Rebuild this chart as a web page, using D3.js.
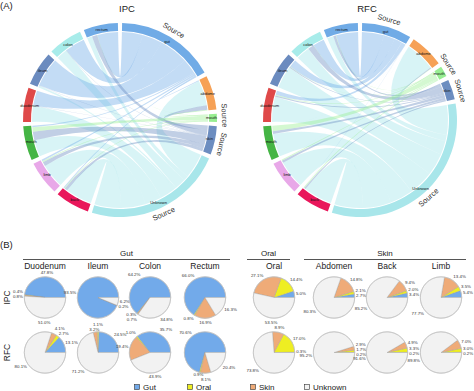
<!DOCTYPE html>
<html><head><meta charset="utf-8">
<script src="https://cdn.jsdelivr.net/npm/d3@7"></script>
<style>body{margin:0;background:#fff}svg{display:block;font-family:"Liberation Sans",Arial,sans-serif}</style>
</head><body><svg id="c" width="474" height="391"></svg>
<script>
// ---------------- data ----------------
const sinks = ["Duodenum","Ileum","Colon","Rectum","Oral","Abdomen","Back","Limb"];
const sources = ["Gut","Oral","Skin","Unknown"];
const ipcGut     = [47.8, 93.5, 64.2, 66.0,  5.0,  2.7,  3.4,  5.4];
const ipcOral    = [ 0.4,  0.0,  0.3,  0.8, 14.4,  2.1,  2.0,  3.5];
const ipcSkin    = [ 0.8,  0.2,  0.7, 16.9, 27.1, 14.8,  9.4, 13.4];
const ipcUnknown = [51.0,  6.2, 34.8, 16.3, 53.5, 80.3, 85.2, 77.7];
const rfcGut     = [13.1, 24.5, 35.7, 70.6,  0.3,  0.2,  0.2,  0.2];
const rfcOral    = [ 2.7,  1.1,  1.0,  0.9, 17.0,  1.7,  3.3,  3.0];
const rfcSkin    = [ 4.1,  3.2, 19.4,  8.1,  8.9,  2.9,  4.9,  7.0];
const rfcUnknown = [80.1, 71.2, 43.9, 20.4, 73.8, 95.2, 91.6, 89.8];
const groups = ["Gut","Oral","Skin"];
const rowLabels = ["IPC","RFC"];
// chord segment order (clockwise from top)
const segNames = ["gut","abdome","mouth","skin","Unknown","back","limb","mouth","duodenum","ileum","colon","rectum"];
const segRefs  = [["src",0],["snk",5],["src",1],["src",2],["src",3],["snk",6],["snk",7],["snk",4],["snk",0],["snk",1],["snk",2],["snk",3]];
const segColors = ["#70abe6","#f6a156","#98ee92","#6c8dc0","#a8e6ea","#e9175b","#e8a8e8","#45b545","#df4949","#6b8bbf","#a8ecea","#70abe6"];
const pieColors = ["#72aaea","#eeee22","#efab78","#f2f2f2"];

// ---------------- setup ----------------
const svg = d3.select("#c");
svg.append("rect").attr("width",474).attr("height",391).attr("fill","#fff");
const txt = "#222";

svg.append("text").attr("x",0).attr("y",9).attr("font-size",9.5).attr("fill",txt).text("(A)");
svg.append("text").attr("x",0).attr("y",248).attr("font-size",9.5).attr("fill",txt).text("(B)");

// ---------------- chord diagrams ----------------
function drawChord(cx, cy, title, mat){
  const g = svg.append("g").attr("transform",`translate(${cx},${cy})`);
  const n = segNames.length;
  const srcSeg = sources.map((_,i)=>segRefs.findIndex(r=>r[0]==="src"&&r[1]===i));
  const snkSeg = sinks.map((_,i)=>segRefs.findIndex(r=>r[0]==="snk"&&r[1]===i));
  const links = [];
  sources.forEach((s,si)=>sinks.forEach((k,ki)=>{
    const v = mat[si][ki];
    if(v>0) links.push({s:srcSeg[si], t:snkSeg[ki], v, si});
  }));
  const totals = segNames.map((_,i)=>d3.sum(links.filter(l=>l.s===i||l.t===i),l=>l.v));
  const gap = 2.5*Math.PI/180;
  const k = (2*Math.PI - n*gap)/d3.sum(totals);
  let a = gap/2;
  const segAng = totals.map(t=>{const s=a; a+=t*k; const e=a; a+=gap; return {s,e};});
  segNames.forEach((_,i)=>{
    const my = [];
    links.forEach((l,li)=>{
      if(l.s===i) my.push({li, other:l.t, side:"sa", v:l.v});
      else if(l.t===i) my.push({li, other:l.s, side:"ta", v:l.v});
    });
    my.sort((p,q)=>((i-p.other+n)%n)-((i-q.other+n)%n));
    let c = segAng[i].s;
    my.forEach(d=>{const st=c; c+=d.v*k; links[d.li][d.side]=[st,c];});
  });
  const Rin = 89, Rout = 97;
  const ribbon = d3.ribbon().radius(Rin-1);
  const drawOrder = [3,0,2,1];
  drawOrder.forEach(si=>{
    links.filter(l=>l.si===si).forEach(l=>{
      g.append("path")
        .attr("d", ribbon({source:{startAngle:l.sa[0],endAngle:l.sa[1]}, target:{startAngle:l.ta[0],endAngle:l.ta[1]}}))
        .attr("fill", segColors[l.s]).attr("fill-opacity", si===3?0.45:0.42)
        .attr("stroke","none");
    });
  });
  const arc = d3.arc().innerRadius(Rin).outerRadius(Rout);
  const srcLab = [];
  segAng.forEach((sa,i)=>{
    g.append("path").attr("d",arc({startAngle:sa.s,endAngle:sa.e})).attr("fill",segColors[i]);
    const m = (sa.s+sa.e)/2;
    g.append("text").attr("x",91.5*Math.sin(m)).attr("y",-91.5*Math.cos(m))
      .attr("text-anchor","middle").attr("dominant-baseline","middle")
      .attr("font-size",4).attr("fill","#111").text(segNames[i]);
    if(segRefs[i][0]==="src") srcLab.push({deg:m*180/Math.PI});
  });
  // spread source labels that are too close
  const minSep = 16;
  for(let it=0; it<20; it++){
    for(let j=1;j<srcLab.length;j++){
      const d = srcLab[j].deg - srcLab[j-1].deg;
      if(d<minSep){ const p=(minSep-d)/2; srcLab[j-1].deg-=p; srcLab[j].deg+=p; }
    }
  }
  srcLab.forEach(l=>{
    const deg=l.deg, m=deg*Math.PI/180;
    const rot = (deg>120 && deg<300) ? deg-180 : deg;
    const R = 104;
    g.append("text").attr("transform",`translate(${R*Math.sin(m)},${-R*Math.cos(m)}) rotate(${rot})`)
      .attr("text-anchor","middle").attr("dominant-baseline","middle")
      .attr("font-size",7.5).attr("fill","#333").text("Source");
  });
  svg.append("text").attr("x",cx+7).attr("y",12).attr("text-anchor","middle")
    .attr("font-size",9.5).attr("fill",txt).text(title);
}
drawChord(120,120,"IPC",[ipcGut,ipcOral,ipcSkin,ipcUnknown]);
drawChord(360,120,"RFC",[rfcGut,rfcOral,rfcSkin,rfcUnknown]);

// ---------------- pies ----------------
const colX = [45, 98, 150, 205, 274, 334, 387, 441];
const rowY = [297.5, 352.5];
const pr = 20.7;
const groupSpan = [[23,230],[247,290],[304,466]];
groups.forEach((gname,gi)=>{
  const [x0,x1] = groupSpan[gi];
  svg.append("line").attr("x1",x0).attr("x2",x1).attr("y1",259.5).attr("y2",259.5).attr("stroke","#555").attr("stroke-width",1);
  svg.append("text").attr("x",(x0+x1)/2).attr("y",256).attr("text-anchor","middle").attr("font-size",8).attr("fill",txt).text(gname);
});
sinks.forEach((s,i)=>{
  svg.append("text").attr("x",colX[i]).attr("y",268.5).attr("text-anchor","middle").attr("font-size",8.5).attr("fill",txt).text(s);
});
rowLabels.forEach((r,ri)=>{
  svg.append("text").attr("transform",`translate(10,${rowY[ri]}) rotate(-90)`).attr("text-anchor","middle")
    .attr("font-size",8.5).attr("fill",txt).text(r);
});
const pieGen = d3.pie().sort(null).value(d=>d.v).startAngle(Math.PI/2).endAngle(Math.PI/2-2*Math.PI);
const pieArc = d3.arc().innerRadius(0).outerRadius(pr);
const rows = [[ipcGut,ipcOral,ipcSkin,ipcUnknown],[rfcGut,rfcOral,rfcSkin,rfcUnknown]];
rows.forEach((mat,ri)=>{
  sinks.forEach((s,ci)=>{
    const cx = colX[ci], cy = rowY[ri];
    const vals = sources.map((src,si)=>({v:mat[si][ci], si}));
    const arcs = pieGen(vals);
    const g = svg.append("g").attr("transform",`translate(${cx},${cy})`);
    arcs.forEach(a=>{
      if(a.data.v<=0) return;
      g.append("path").attr("d",pieArc(a)).attr("fill",pieColors[a.data.si])
        .attr("stroke","#9a9a9a").attr("stroke-width",0.35);
    });
    g.append("circle").attr("r",pr).attr("fill","none").attr("stroke","#c4c4c4").attr("stroke-width",0.8);
    const labs = arcs.filter(a=>a.data.v>0).map(a=>{
      const m = (a.startAngle+a.endAngle)/2;
      const sx = Math.sin(m), cy2 = -Math.cos(m);
      let anchor = "middle", x = (pr+6)*sx;
      if(sx>0.4){anchor="start"; x=(pr+1.5)*sx;}
      else if(sx<-0.4){anchor="end"; x=(pr+1.5)*sx;}
      return {x, y:(pr+4.5)*cy2, anchor, t:a.data.v.toFixed(1)+"%"};
    });
    for(let it=0; it<40; it++){
      for(let i=0;i<labs.length;i++) for(let j=i+1;j<labs.length;j++){
        const A=labs[i], B=labs[j];
        if(Math.abs(A.x-B.x)<11 && Math.abs(A.y-B.y)<5){
          const d=(5-Math.abs(A.y-B.y))/2, sg = A.y<=B.y?-1:1;
          A.y+=sg*d; B.y-=sg*d;
        }
      }
    }
    labs.forEach(l=>{
      g.append("text").attr("x",l.x).attr("y",l.y).attr("text-anchor",l.anchor).attr("dominant-baseline","middle")
        .attr("font-size",4.4).attr("fill","#333").text(l.t);
    });
  });
});

// ---------------- legend ----------------
const legX = [137, 190, 253, 307];
sources.forEach((s,i)=>{
  svg.append("rect").attr("x",legX[i]-2.5).attr("y",384.5).attr("width",5).attr("height",5)
    .attr("fill",pieColors[i]).attr("stroke","#333").attr("stroke-width",0.6);
  svg.append("text").attr("x",legX[i]+6).attr("y",390).attr("font-size",8).attr("fill",txt).text(s);
});
</script></body></html>
